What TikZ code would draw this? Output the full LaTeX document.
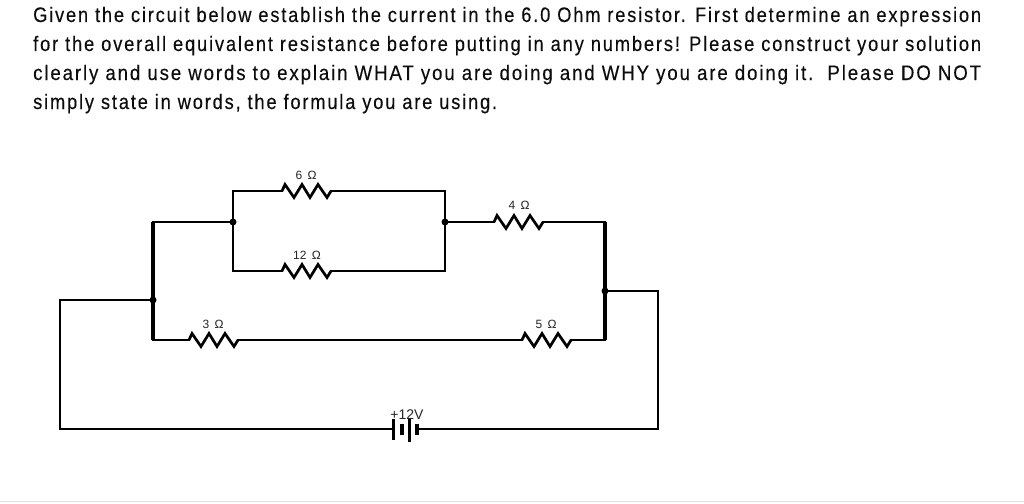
\documentclass[tikz,border=0pt]{standalone}
\usepackage{fontspec}
\usepackage{graphicx}
\setmainfont{Liberation Sans}
\newfontfamily\bodyfont[FakeStretch=0.8,LetterSpace=8,FakeBold=0.2]{Liberation Sans}
\newcommand{\fitline}[2]{\resizebox{#1pt}{\height}{#2}}
\tikzset{
  wire/.style={line width=2.9pt,line join=miter,line cap=rect},
  heavy/.style={line width=3.7pt,line cap=butt},
  zig/.style={line width=2.7pt,line join=miter,to path={-- ++(3,-6.5) -- ++(9,13) -- ++(8,-13) -- ++(8,13) -- ++(8,-13) -- ++(9,13) -- (\tikztotarget)}},
  dotnode/.style={circle,fill=black,inner sep=0pt,minimum size=7pt},
  vallabel/.style={inner sep=0pt,font=\fontsize{12}{14}\selectfont,text=black!85},
  bodyline/.style={inner sep=0pt,anchor=base west,text=black!95,font=\bodyfont\fontsize{21}{23}\selectfont},
  bigplate/.style={line width=3pt},
  smallplate/.style={line width=3.6pt}
}
\begin{document}
\begin{tikzpicture}[x=1pt,y=-1pt]
\useasboundingbox (0,0) rectangle (1024,503);
\fill[white] (0,0) rectangle (1024,503);
\draw[black!12,line width=1pt] (0,501.5) -- (1024,501.5);
% text
\node[bodyline] (t1) at (33,22) {\fitline{948}{Given the circuit below establish the current in the 6.0 Ohm resistor. First determine an expression}};
\node[bodyline] (t2) at (33,51) {\fitline{948}{for the overall equivalent resistance before putting in any numbers! Please construct your solution}};
\node[bodyline] (t3) at (33,80) {\fitline{948}{clearly and use words to explain WHAT you are doing and WHY you are doing it.\ \ Please DO NOT}};
\node[bodyline] (t4) at (33,109) {\fitline{464}{simply state in words, the formula you are using.}};
% junctions
\node[dotnode] (j1) at (153,300) {};
\node[dotnode] (j2) at (233,222) {};
\node[dotnode] (j3) at (445,222) {};
\node[dotnode] (j4) at (605,291) {};
% corners and ends
\coordinate (c1) at (60,300);
\coordinate (c2) at (60,429);
\coordinate (c3) at (658,429);
\coordinate (c4) at (658,291);
\coordinate (c5) at (153,222);
\coordinate (c6) at (153,340);
\coordinate (c7) at (605,222);
\coordinate (c8) at (605,340);
\coordinate (c9) at (233,191);
\coordinate (c10) at (445,191);
\coordinate (c11) at (233,271);
\coordinate (c12) at (445,271);
\coordinate (r6a) at (282,191);  \coordinate (r6b) at (331,191);
\coordinate (r12a) at (282,271); \coordinate (r12b) at (331,271);
\coordinate (r4a) at (494,222);  \coordinate (r4b) at (543,222);
\coordinate (r3a) at (189,340);  \coordinate (r3b) at (238,340);
\coordinate (r5a) at (522,340);  \coordinate (r5b) at (571,340);
\coordinate (b1) at (393,429);   \coordinate (b2) at (419,429);
% wires
\draw[wire] (j1.center) -- (c1) -- (c2) -- (b1);
\draw[wire] (b2) -- (c3) -- (c4) -- (j4.center);
\draw[heavy] (c5) -- (c6);
\draw[wire] (c5) -- (j2.center);
\draw[wire] (c6) -- (r3a);
\draw[wire] (r3b) -- (r5a);
\draw[wire] (r5b) -- (c8);
\draw[heavy] (c7) -- (c8);
\draw[wire] (j3.center) -- (r4a);
\draw[wire] (r4b) -- (c7);
\draw[wire] (j2.center) -- (c9) -- (r6a);
\draw[wire] (r6b) -- (c10) -- (j3.center);
\draw[wire] (j2.center) -- (c11) -- (r12a);
\draw[wire] (r12b) -- (c12) -- (j3.center);
% resistors
\draw[zig] (r6a) to (r6b);
\draw[zig] (r12a) to (r12b);
\draw[zig] (r4a) to (r4b);
\draw[zig] (r3a) to (r3b);
\draw[zig] (r5a) to (r5b);
% battery
\coordinate (p1) at (393,429);
\coordinate (p2) at (402,429);
\coordinate (p3) at (409,429);
\coordinate (p4) at (417,429);
\draw[bigplate] ([yshift=10pt]p1) -- ([yshift=-11pt]p1);
\draw[smallplate] ([yshift=5.5pt]p2) -- ([yshift=-6pt]p2);
\draw[bigplate] ([yshift=11.5pt]p3) -- ([yshift=-12.5pt]p3);
\draw[smallplate] ([yshift=5.5pt]p4) -- ([yshift=-6pt]p4);
% labels
\node[vallabel] (l6) at (306,175) {6\hspace{2pt} Ω};
\node[vallabel] (l12) at (307,255) {12\hspace{2pt} Ω};
\node[vallabel] (l3) at (213,324) {3\hspace{2pt} Ω};
\node[vallabel] (l4) at (519,205) {4\hspace{2pt} Ω};
\node[vallabel] (l5) at (546,324) {5\hspace{2pt} Ω};
\node[vallabel,font=\fontsize{14}{16}\selectfont] (l12v) at (407,415) {+12V};
\end{tikzpicture}
\end{document}
